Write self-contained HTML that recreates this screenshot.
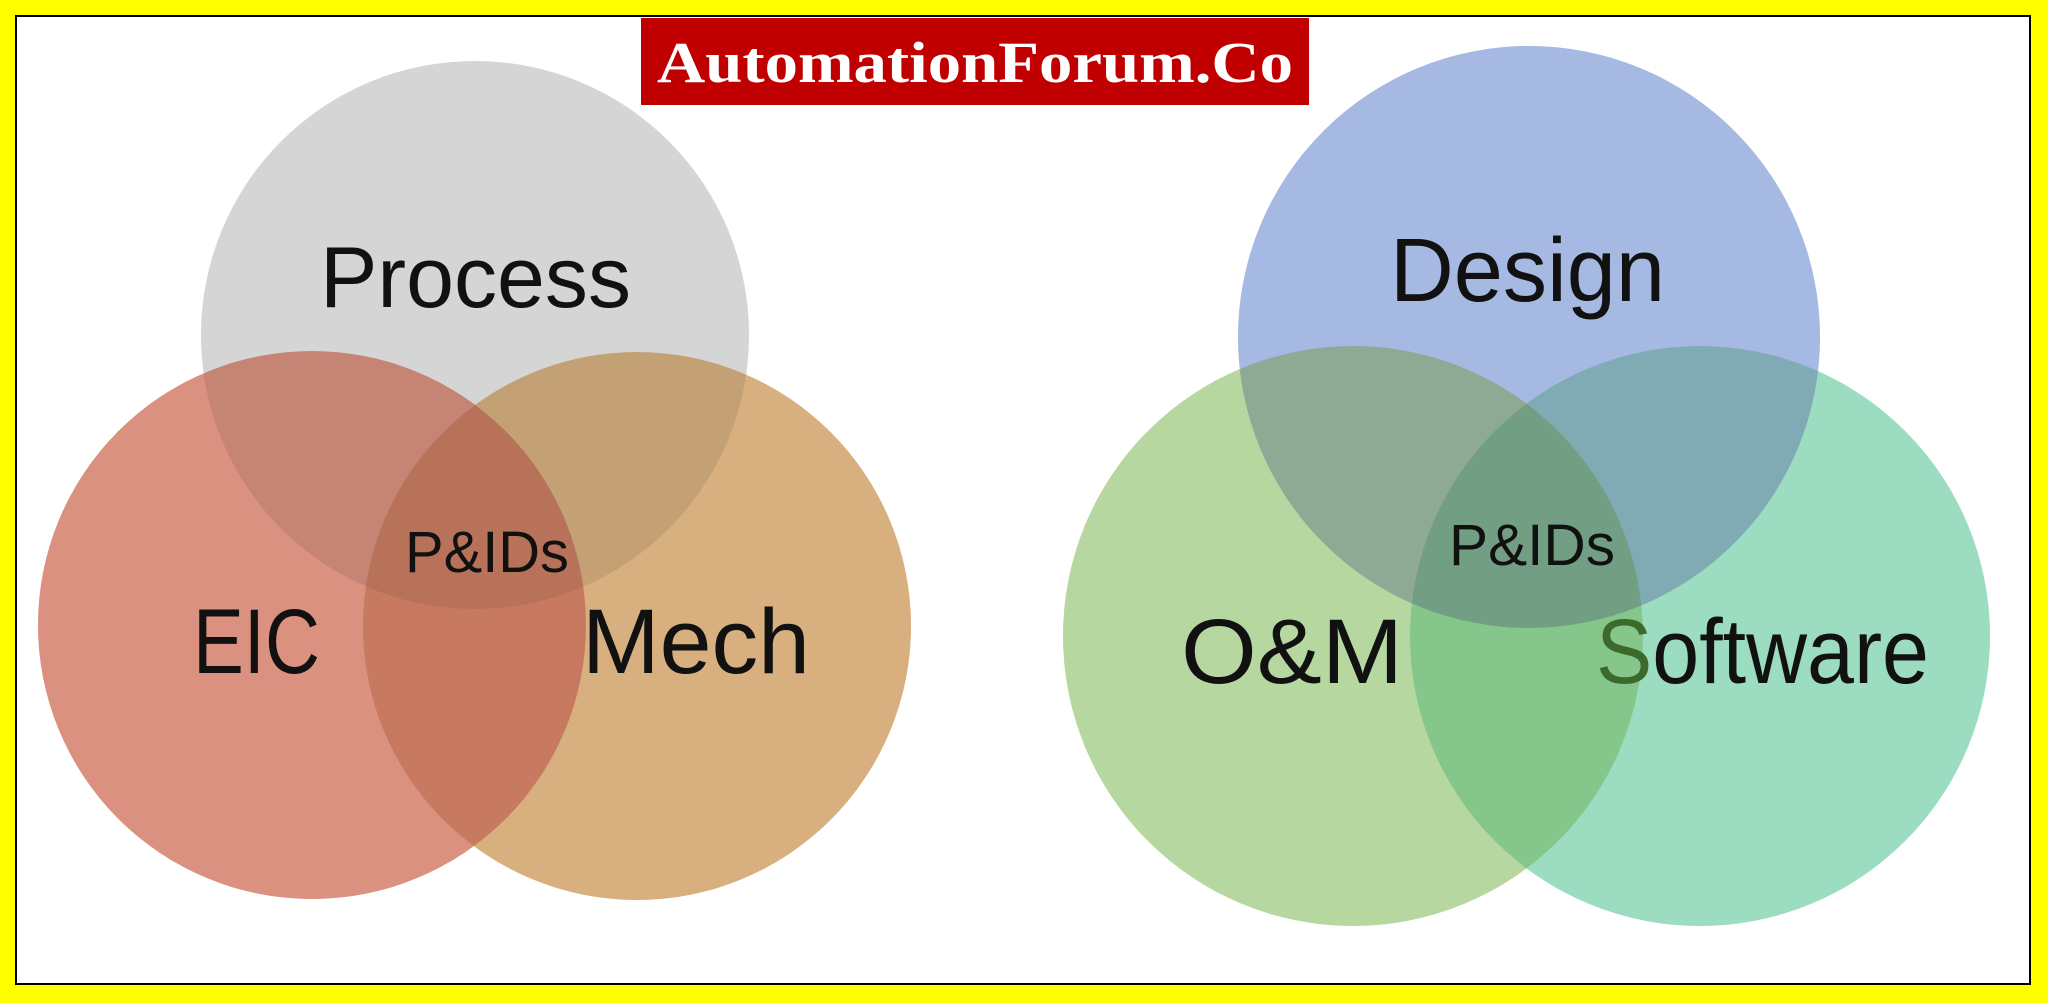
<!DOCTYPE html>
<html><head><meta charset="utf-8"><style>
html,body{margin:0;padding:0;background:#fff}
svg{display:block}
</style></head><body>
<svg width="2048" height="1003" viewBox="0 0 2048 1003" xmlns="http://www.w3.org/2000/svg">
<defs>
<g id="circs">
<circle cx="475" cy="335" r="274" fill="#d5d5d5"/>
<circle cx="312" cy="625" r="274" fill="#da917f"/>
<circle cx="637" cy="626" r="274" fill="#d8b07f"/>
<circle cx="1529" cy="337" r="291" fill="#a6b9e2"/>
<circle cx="1353" cy="636" r="290" fill="#b6d79f"/>
<circle cx="1700" cy="636" r="290" fill="#9cdcc0"/>
</g>
</defs>
<rect x="0" y="0" width="2048" height="1003" fill="#ffff00"/>
<rect x="16" y="16" width="2014" height="968" fill="#fff" stroke="#000" stroke-width="2"/>
<g style="isolation:isolate">
<circle cx="475" cy="335" r="274" fill="#d5d5d5" style="mix-blend-mode:darken"/>
<circle cx="312" cy="625" r="274" fill="#da917f" style="mix-blend-mode:darken"/>
<circle cx="637" cy="626" r="274" fill="#d8b07f" style="mix-blend-mode:darken"/>
<circle cx="1529" cy="337" r="291" fill="#a6b9e2" style="mix-blend-mode:darken"/>
<circle cx="1353" cy="636" r="290" fill="#b6d79f" style="mix-blend-mode:darken"/>
<circle cx="1700" cy="636" r="290" fill="#9cdcc0" style="mix-blend-mode:darken"/>
</g>
<g style="isolation:isolate" opacity="0.5">
<circle cx="475" cy="335" r="274" fill="#d5d5d5" style="mix-blend-mode:multiply"/>
<circle cx="312" cy="625" r="274" fill="#da917f" style="mix-blend-mode:multiply"/>
<circle cx="637" cy="626" r="274" fill="#d8b07f" style="mix-blend-mode:multiply"/>
<circle cx="1529" cy="337" r="291" fill="#a6b9e2" style="mix-blend-mode:multiply"/>
<circle cx="1353" cy="636" r="290" fill="#b6d79f" style="mix-blend-mode:multiply"/>
<circle cx="1700" cy="636" r="290" fill="#9cdcc0" style="mix-blend-mode:multiply"/>
</g>
<g font-family="Liberation Sans, sans-serif" fill="#111">
<text x="320" y="307" font-size="86" textLength="311" lengthAdjust="spacingAndGlyphs">Process</text>
<text x="405" y="572" font-size="58" textLength="164" lengthAdjust="spacingAndGlyphs">P&amp;IDs</text>
<text x="193" y="673" font-size="92" textLength="127" lengthAdjust="spacingAndGlyphs">EIC</text>
<text x="582" y="673" font-size="92" textLength="228" lengthAdjust="spacingAndGlyphs">Mech</text>
<text x="1390" y="301" font-size="90" textLength="275" lengthAdjust="spacingAndGlyphs">Design</text>
<text x="1449" y="565" font-size="58" textLength="166" lengthAdjust="spacingAndGlyphs">P&amp;IDs</text>
<text x="1181" y="683" font-size="92" textLength="222" lengthAdjust="spacingAndGlyphs">O&amp;M</text>
<text x="1596" y="683" font-size="92" textLength="333" lengthAdjust="spacingAndGlyphs"><tspan fill="#3c6a2c">S</tspan>oftware</text>
</g>
<rect x="641" y="18" width="668" height="87" fill="#c00000"/>
<text x="975" y="82" text-anchor="middle" font-family="Liberation Serif, serif" font-weight="bold" font-size="58" fill="#fff" textLength="636" lengthAdjust="spacingAndGlyphs">AutomationForum.Co</text>
</svg>
</body></html>
